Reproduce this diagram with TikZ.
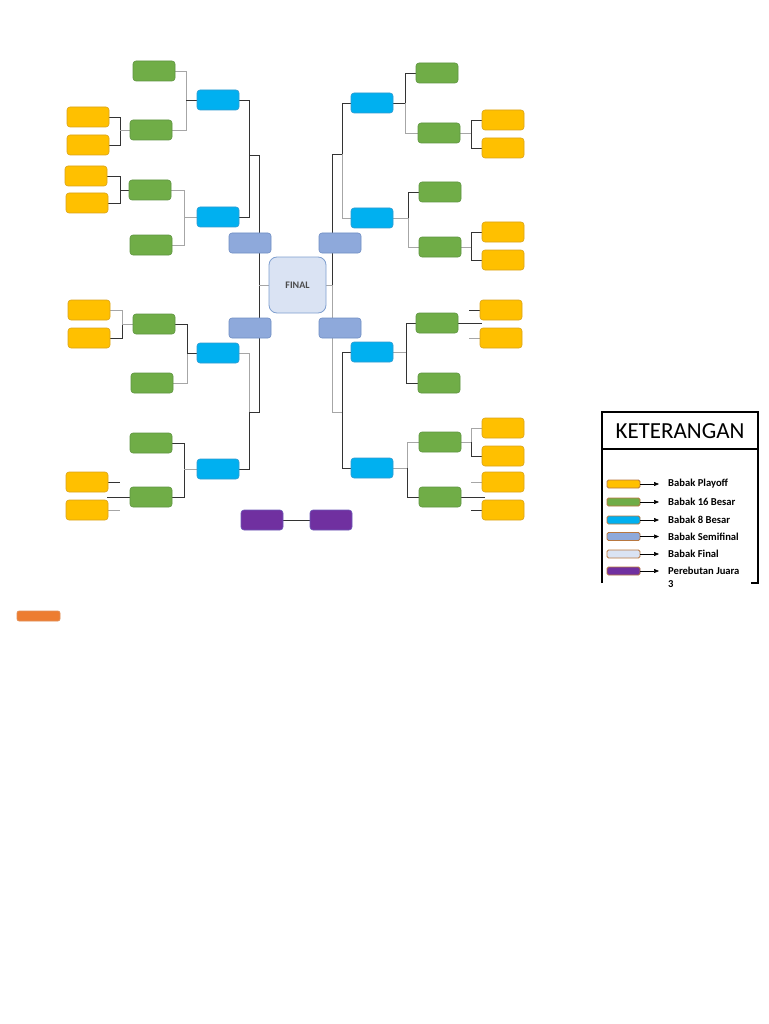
\documentclass[tikz,border=0pt]{standalone}
\usepackage{fontspec}
\setmainfont{Carlito}
\usetikzlibrary{arrows.meta,backgrounds}

\definecolor{cplf}{HTML}{FFC000}
\definecolor{cplfd}{HTML}{D9A21B}
\definecolor{cr16}{HTML}{70AD47}
\definecolor{cr16d}{HTML}{5E9440}
\definecolor{cr8}{HTML}{00B0F0}
\definecolor{cr8d}{HTML}{2E9AD0}
\definecolor{csemi}{HTML}{8EA9DB}
\definecolor{csemid}{HTML}{6F8DC4}
\definecolor{cfin}{HTML}{DAE3F3}
\definecolor{cfind}{HTML}{7F9FCF}
\definecolor{cju}{HTML}{7030A0}
\definecolor{cjud}{HTML}{6E5AB8}
\definecolor{corg}{HTML}{ED7D31}
\definecolor{corgd}{HTML}{E0905A}
\definecolor{clgd}{HTML}{B8773F}

\tikzset{
	tim/.style={draw, rounded corners=3pt, minimum width=42pt, minimum height=20pt, inner sep=0pt, line width=0.6pt},
	plf/.style={tim, fill=cplf, draw=cplfd},
	r16/.style={tim, fill=cr16, draw=cr16d},
	r8/.style={tim, fill=cr8, draw=cr8d},
	semi/.style={tim, fill=csemi, draw=csemid},
	ju3/.style={tim, fill=cju, draw=cjud},
	org/.style={tim, fill=corg, draw=corgd, minimum width=43pt, minimum height=10pt, rounded corners=2pt},
	finbox/.style={draw=cfind, fill=cfin, rounded corners=8pt, minimum width=57pt, minimum height=56pt, line width=0.8pt, text=black!70, font=\bfseries\fontsize{10}{12}\selectfont},
	wire/.style={draw=black!80, line width=0.7pt},
	wirel/.style={draw=black!35, line width=0.7pt},
	lgsw/.style={draw=clgd, line width=0.8pt, rounded corners=1.5pt, minimum width=33pt, minimum height=8pt, inner sep=0pt},
	lgtx/.style={anchor=west, inner sep=0pt, font=\bfseries\fontsize{10.6}{13}\selectfont},
	lgar/.style={-{Triangle[length=5pt,width=4pt]}, line width=0.6pt, shorten >=9pt},
}

\begin{document}
\begin{tikzpicture}[x=1pt,y=-1pt]
	\useasboundingbox (0,0) rectangle (768,1024);
	% left half
	\node[r16] (gL1) at (154,71) {};
	\node[r8] (bL1) at (218,100) {};
	\node[plf] (yL1a) at (88,117) {};
	\node[plf] (yL1b) at (88,145) {};
	\node[r16] (gL2) at (151,130) {};
	\node[plf] (yL2a) at (86,176) {};
	\node[plf] (yL2b) at (87,203) {};
	\node[r16] (gL3) at (150,190) {};
	\node[r8] (bL2) at (218,217) {};
	\node[r16] (gL4) at (151,245) {};
	\node[plf] (yL3a) at (89,310) {};
	\node[plf] (yL3b) at (89,338) {};
	\node[r16] (gL5) at (154,324) {};
	\node[r8] (bL3) at (218,353) {};
	\node[r16] (gL6) at (152,383) {};
	\node[r16] (gL7) at (151,443) {};
	\node[r8] (bL4) at (218,469) {};
	\node[plf] (yL4a) at (87,482) {};
	\node[plf] (yL4b) at (87,510) {};
	\node[r16] (gL8) at (151,497) {};
	\node[semi] (sL1) at (250,243) {};
	\node[semi] (sL2) at (250,328) {};
	% centre
	\node[finbox] (fin) at (297.5,285) {FINAL};
	\node[ju3] (pJ1) at (262,520) {};
	\node[ju3] (pJ2) at (331,520) {};
	% right half
	\node[semi] (sR1) at (340,243) {};
	\node[semi] (sR2) at (340,328) {};
	\node[r8] (bR1) at (372,103) {};
	\node[r16] (gR1) at (437,73) {};
	\node[r16] (gR2) at (439,133) {};
	\node[plf] (yR1a) at (503,120) {};
	\node[plf] (yR1b) at (503,148) {};
	\node[r8] (bR2) at (372,218) {};
	\node[r16] (gR3) at (440,192) {};
	\node[r16] (gR4) at (440,247) {};
	\node[plf] (yR2a) at (503,232) {};
	\node[plf] (yR2b) at (503,260) {};
	\node[r16] (gR5) at (437,323) {};
	\node[plf] (yR3a) at (501,310) {};
	\node[plf] (yR3b) at (501,338) {};
	\node[r8] (bR3) at (372,352) {};
	\node[r16] (gR6) at (439,383) {};
	\node[r16] (gR7) at (440,442) {};
	\node[plf] (yR4a) at (503,428) {};
	\node[plf] (yR4b) at (503,456) {};
	\node[r8] (bR4) at (372,468) {};
	\node[r16] (gR8) at (440,497) {};
	\node[plf] (yR5a) at (503,482) {};
	\node[plf] (yR5b) at (503,510) {};
	% stray box
	\node[org] (orn) at (38.5,616) {};
	% joints
	\coordinate (jY1) at (120,130);
	\coordinate (jY2) at (120,190);
	\coordinate (jL1) at (186,100);
	\coordinate (jL2) at (184,217);
	\coordinate (jY3) at (122,324);
	\coordinate (jL3) at (187,353);
	\coordinate (jL4) at (184,469);
	\coordinate (kL1) at (249,155);
	\coordinate (kL2) at (249,412);
	\coordinate (mL) at (259,285);
	\coordinate (tL4a) at (120,482);
	\coordinate (tL4b) at (120,510);
	\coordinate (tL4c) at (107,497);
	\coordinate (jR1) at (405,103);
	\coordinate (jYR1) at (471,133);
	\coordinate (jR2) at (408,218);
	\coordinate (jYR2) at (471,247);
	\coordinate (jR3) at (406,352);
	\coordinate (jR4) at (407,468);
	\coordinate (jYR4) at (471,442);
	\coordinate (kR1) at (342,154);
	\coordinate (kR2) at (342,412);
	\coordinate (mR) at (332,285);
	\coordinate (tR5) at (482,323);
	\coordinate (tR3a) at (469,310);
	\coordinate (tR3b) at (469,338);
	\coordinate (tR8) at (485,497);
	\coordinate (tR5a) at (471,482);
	\coordinate (tR5b) at (471,510);
	% connectors
	\begin{scope}[on background layer]
		\draw[wire] (yL1a.east) -| (jY1);
		\draw[wire] (yL1b.east) -| (jY1);
		\draw[wirel] (jY1) -- (gL2.west);
		\draw[wire] (yL2a.east) -| (jY2);
		\draw[wire] (yL2b.east) -| (jY2) -- (gL3.west);
		\draw[wirel] (gL1.east) -| (jL1);
		\draw[wirel] (gL2.east) -| (jL1);
		\draw[wire] (jL1) -- (bL1.west);
		\draw[wirel] (gL3.east) -| (jL2);
		\draw[wirel] (gL4.east) -| (jL2) -- (bL2.west);
		\draw[wirel] (yL3a.east) -| (jY3);
		\draw[wire] (yL3b.east) -| (jY3);
		\draw[wirel] (jY3) -- (gL5.west);
		\draw[wire] (gL5.east) -| (jL3);
		\draw[wirel] (gL6.east) -| (jL3);
		\draw[wire] (jL3) -- (bL3.west);
		\draw[wire] (gL7.east) -| (jL4);
		\draw[wire] (gL8.east) -| (jL4);
		\draw[wirel] (jL4) -- (bL4.west);
		\draw[wire] (yL4a.east) -- (tL4a);
		\draw[wirel] (yL4b.east) -- (tL4b);
		\draw[wire] (tL4c) -- (gL8.west);
		\draw[wire] (bL1.east) -| (kL1);
		\draw[wire] (bL2.east) -| (kL1);
		\draw[wirel] (bL3.east) -| (kL2);
		\draw[wire] (bL4.east) -| (kL2);
		\draw[wire] (kL1) -| (mL);
		\draw[wire] (kL2) -| (mL);
		\draw[wirel] (mL) -- (fin.west);
		\draw[wire] (bR1.west) -| (kR1);
		\draw[wirel] (bR2.west) -| (kR1);
		\draw[wire] (kR1) -| (mR);
		\draw[wire] (bR3.west) -| (kR2);
		\draw[wire] (bR4.west) -| (kR2);
		\draw[wirel] (kR2) -| (mR);
		\draw[wirel] (mR) -- (fin.east);
		\draw[wire] (gR1.west) -| (jR1);
		\draw[wirel] (gR2.west) -| (jR1);
		\draw[wire] (jR1) -- (bR1.east);
		\draw[wire] (yR1a.west) -| (jYR1);
		\draw[wire] (yR1b.west) -| (jYR1);
		\draw[wirel] (jYR1) -- (gR2.east);
		\draw[wire] (gR3.west) -| (jR2);
		\draw[wirel] (gR4.west) -| (jR2);
		\draw[wirel] (jR2) -- (bR2.east);
		\draw[wire] (yR2a.west) -| (jYR2);
		\draw[wire] (yR2b.west) -| (jYR2);
		\draw[wirel] (jYR2) -- (gR4.east);
		\draw[wire] (gR5.west) -| (jR3);
		\draw[wire] (gR6.west) -| (jR3);
		\draw[wirel] (jR3) -- (bR3.east);
		\draw[wire] (gR5.east) -- (tR5);
		\draw[wire] (tR3a) -- (yR3a.west);
		\draw[wirel] (tR3b) -- (yR3b.west);
		\draw[wirel] (gR7.west) -| (jR4);
		\draw[wire] (gR8.west) -| (jR4);
		\draw[wirel] (jR4) -- (bR4.east);
		\draw[wirel] (yR4a.west) -| (jYR4);
		\draw[wire] (yR4b.west) -| (jYR4);
		\draw[wirel] (jYR4) -- (gR7.east);
		\draw[wire] (gR8.east) -- (tR8);
		\draw[wirel] (tR5a) -- (yR5a.west);
		\draw[wire] (tR5b) -- (yR5b.west);
		\draw[wire] (pJ1.east) -- (pJ2.west);
	\end{scope}
	% legend frame
	\draw[line width=2pt] (602,583) -- (602,412) -- (758,412) -- (758,583) -- (751,583);
	\draw[line width=1.2pt] (602,449) -- (758,449);
	\node (ket) at (680,431) {\fontsize{23}{26}\selectfont KETERANGAN};
	% legend entries
	\foreach \c/\t/\y [count=\i] in {cplf/Babak Playoff/484, cr16/Babak 16 Besar/502, cr8/Babak 8 Besar/520, csemi/Babak Semifinal/536.5, cfin/Babak Final/554} {
		\node[lgsw, fill=\c] (sw\i) at (623.5,\y) {};
		\node[lgtx] (lt\i) at (668,\y) {\t};
		\draw[lgar] (sw\i.east) -- (lt\i.west);
	}
	\node[lgsw, fill=cju] (sw6) at (623.5,571) {};
	\node[lgtx, anchor=north west, align=left] (lt6) at (668,566.5) {Perebutan Juara\\3};
	\draw[lgar] (sw6.east) -- (sw6.east -| lt6.west);
\end{tikzpicture}
\end{document}
